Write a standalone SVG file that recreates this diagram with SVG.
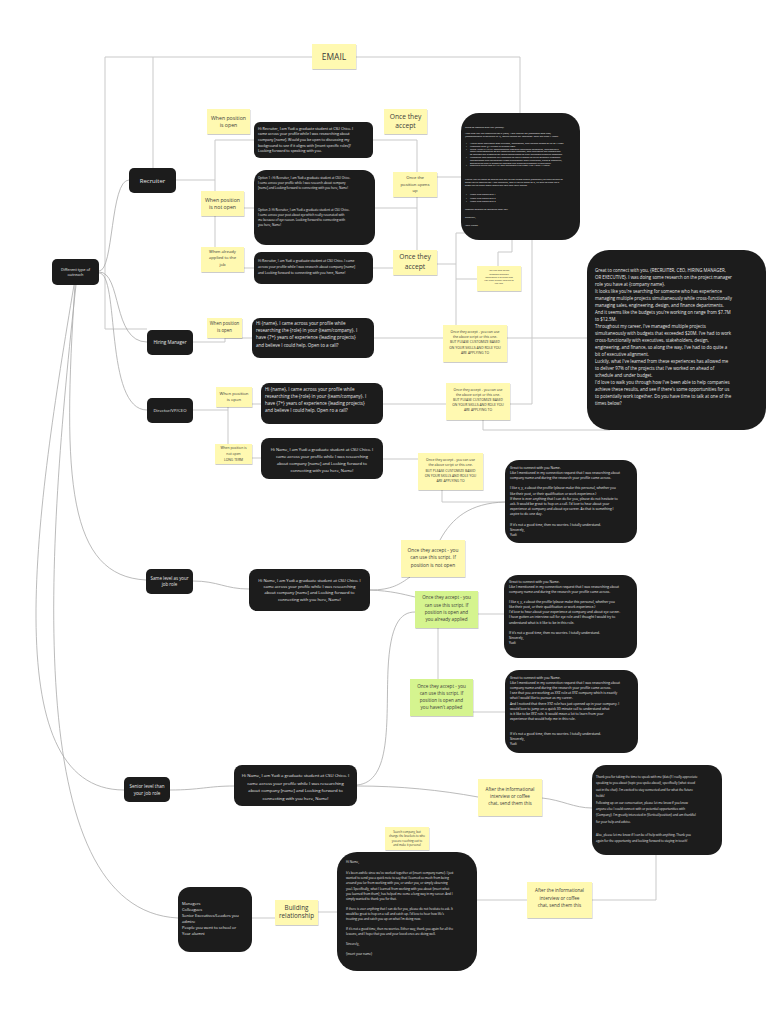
<svg xmlns="http://www.w3.org/2000/svg" width="768" height="1024" viewBox="0 0 768 1024">
<defs>
<filter id="sh" x="-10%" y="-10%" width="130%" height="140%"><feDropShadow dx="0.5" dy="1" stdDeviation="0.7" flood-color="#000" flood-opacity="0.2"/></filter>
<style>
.b{fill:#1c1c1c}
.y{fill:#fff9b1;filter:url(#sh)}
.g{fill:#d5f48f;filter:url(#sh)}
.c{fill:none;stroke:#c9c9c9;stroke-width:1}
.cv{fill:none;stroke:#a9a9a9;stroke-width:0.8}
text{font-family:"Open Sans","Liberation Sans",sans-serif}
.w{fill:#e6e6e6}
.wc{fill:#e6e6e6;text-anchor:middle}
.k{fill:#3a3a3a;text-anchor:middle}
</style>
</defs>
<rect width="768" height="1024" fill="#ffffff"/>

<g id="connectors">
<path class="c" d="M153,168 V57 H520 V113"/>
<path class="c" d="M147,329 H105 V57 H153"/>
<path class="cv" d="M99,271 C114,271 110,180 129,180"/>
<path class="cv" d="M99,272 C122,272 112,342 147,342"/>
<path class="cv" d="M99,273 C120,273 104,410 147,410"/>
<path class="cv" d="M75,285 C62,480 68,576 146,580"/>
<path class="cv" d="M74,285 C38,500 -8,790 124,790"/>
<path class="cv" d="M76,285 C48,540 18,910 178,918"/>
<path class="c" d="M176,180 H215"/>
<path class="c" d="M215,140 V268"/>
<path class="c" d="M215,140 H254"/>
<path class="c" d="M244,208 H254"/>
<path class="c" d="M215,268 H254"/>
<path class="c" d="M373,140 H417 V250"/>
<path class="c" d="M375,208 H417"/>
<path class="c" d="M437,177 H461"/>
<path class="c" d="M373,268 H393"/>
<path class="c" d="M437,264 H456"/>
<path class="c" d="M466,233 H456 V325"/>
<path class="c" d="M456,279 H477"/>
<path class="c" d="M512,240 V252 H498 V266"/>
<path class="c" d="M532,240 V404 H510"/>
<path class="c" d="M193,342 H225 V338 H252"/>
<path class="c" d="M374,338 H443"/>
<path class="c" d="M507,338 H587"/>
<path class="c" d="M193,410 H228"/>
<path class="c" d="M228,407 V444"/>
<path class="c" d="M252,404 H261"/>
<path class="c" d="M252,458 H261"/>
<path class="c" d="M383,404 H446"/>
<path class="c" d="M383,459 H418"/>
<path class="c" d="M483,420 V430 H610"/>
<path class="c" d="M442,490 V502 H505"/>
<path class="cv" d="M440,540 C452,518 470,503 505,502"/>
<path class="cv" d="M193,581 C218,581 225,589 249,589"/>
<path class="cv" d="M370,590 C392,590 400,584 410,577"/>
<path class="cv" d="M370,590 C392,591 402,594 415,597"/>
<path class="cv" d="M357,785 C392,782 386,720 388,670 C390,625 400,612 415,612"/>
<path class="c" d="M478,614 H504"/>
<path class="c" d="M438,628 V679"/>
<path class="c" d="M473,712 H505"/>
<path class="cv" d="M170,790 C200,790 208,786 234,786"/>
<path class="cv" d="M357,786 C400,786 440,790 478,797"/>
<path class="cv" d="M542,798 C562,800 574,808 592,808"/>
<path class="c" d="M656,855 V900 H592"/>
<path class="c" d="M252,918 H275"/>
<path class="c" d="M318,912 H337"/>
<path class="c" d="M477,900 H527"/>
</g>

<g id="n-outreach"><rect class="b" x="52" y="259" width="47" height="26" rx="5"/>
<text class="wc" font-size="3.8"><tspan x="75.5" y="270.5">Different type of</tspan><tspan x="75.5" y="276">outreach</tspan></text></g>

<g id="n-recruiter"><rect class="b" x="129" y="168" width="47" height="25" rx="5"/>
<text class="wc" font-size="6" x="152.5" y="182.5">Recruiter</text></g>

<g id="n-email"><rect class="y" x="312" y="44" width="44" height="25"/>
<text class="k" font-size="8.5" x="334" y="59.5">EMAIL</text></g>

<g id="s-rec-open"><rect class="y" x="207" y="109" width="43" height="25"/>
<text class="k" font-size="5.2"><tspan x="228.5" y="120">When position</tspan><tspan x="228.5" y="126.5">is open</tspan></text></g>

<g id="m-rec1"><rect class="b" x="254" y="122" width="119" height="36" rx="6"/>
<text class="w" font-size="3.6"><tspan x="258" y="129.5">Hi Recruiter, I am Yudi a graduate student at CSU Chico. I</tspan><tspan x="258" y="135.2">came across your profile while I was researching about</tspan><tspan x="258" y="140.9">company [name]. Would you be open to discussing my</tspan><tspan x="258" y="146.6">background to see if it aligns with [insert specific roles]?</tspan><tspan x="258" y="152.3">Looking forward to speaking with you.</tspan></text></g>

<g id="s-accept1"><rect class="y" x="384" y="109" width="43" height="25"/>
<text class="k" font-size="6.7"><tspan x="405.5" y="118.8">Once they</tspan><tspan x="405.5" y="128.4">accept</tspan></text></g>

<g id="s-rec-notopen"><rect class="y" x="201" y="191" width="43" height="25"/>
<text class="k" font-size="5.2"><tspan x="222.5" y="202">When position</tspan><tspan x="222.5" y="208.6">is not open</tspan></text></g>

<g id="m-rec2"><rect class="b" x="254" y="170" width="121" height="75" rx="12"/>
<text class="w" font-size="3.0"><tspan x="258" y="178.5">Option 1 : Hi Recruiter, I am Yudi a graduate student at CSU Chico.</tspan><tspan x="258" y="183.8">I came across your profile while I was research about company</tspan><tspan x="258" y="189.1">[name] and Looking forward to connecting with you here, Name!</tspan><tspan x="258" y="210.5">Option 2: Hi Recruiter, I am Yudi a graduate student at CSU Chico.</tspan><tspan x="258" y="215.8">I came across your post about  xyz which really resonated with</tspan><tspan x="258" y="221.1">me because of xyz reason. Looking forward to connecting with</tspan><tspan x="258" y="226.4">you here, Name!</tspan></text></g>

<g id="s-opens"><rect class="y" x="393" y="172" width="44" height="25"/>
<text class="k" font-size="4.2"><tspan x="415" y="178.8">Once the</tspan><tspan x="415" y="185.5">position opens</tspan><tspan x="415" y="192.2">up</tspan></text></g>

<g id="s-applied"><rect class="y" x="201" y="247" width="43" height="25"/>
<text class="k" font-size="4.2"><tspan x="222.5" y="252.7">When already</tspan><tspan x="222.5" y="259.4">applied to the</tspan><tspan x="222.5" y="266.1">job</tspan></text></g>

<g id="m-rec3"><rect class="b" x="254" y="252" width="119" height="32" rx="7"/>
<text class="w" font-size="3.3"><tspan x="258" y="262.4">Hi Recruiter, I am Yudi a graduate student at CSU Chico. I came</tspan><tspan x="258" y="268">across your profile while I was research about company [name]</tspan><tspan x="258" y="273.6">and Looking forward to connecting with you here, Name!</tspan></text></g>

<g id="s-accept2"><rect class="y" x="393" y="250" width="44" height="25"/>
<text class="k" font-size="6.7"><tspan x="415" y="259.3">Once they</tspan><tspan x="415" y="269">accept</tspan></text></g>

<g id="m-email-big"><rect class="b" x="461" y="113" width="119" height="127" rx="18"/>
<text class="w" font-size="2.45"><tspan x="465" y="127.5">Great to connect with you {name}!</tspan><tspan x="465" y="134">I see that you are searching for a {role}. Your search for {someone who has}</tspan><tspan x="465" y="137.3">{demonstrated experience in X}, which caught my attention. Over the past X years:</tspan><tspan x="466" y="144">•</tspan><tspan x="470" y="144">I have been entrusted with building, developing, and leading teams of up to X FTEs</tspan><tspan x="466" y="146.8">•</tspan><tspan x="470" y="146.8">Managed over $X Million in diverse R&amp;D</tspan><tspan x="466" y="149.6">•</tspan><tspan x="470" y="149.6">Grew Ability T X% by implementing effective operating strategies, developing a</tspan><tspan x="470" y="152.4">deep understanding of our features and benefits, and leveraging the knowledge</tspan><tspan x="470" y="155.2">to activate the platform for sales/conversions at high increased product adoption.</tspan><tspan x="466" y="158">•</tspan><tspan x="470" y="158">Mentored and coached key partners to lead a model to drive strategic customer</tspan><tspan x="470" y="160.8">engagement and collaborate cross-functionally with Marketing, Sales &amp; Research,</tspan><tspan x="470" y="163.6">Engineering and IT teams to improve the product/customer experience.</tspan><tspan x="466" y="166.4">•</tspan><tspan x="470" y="166.4">Reduced churn rate by X% and increased NPS from X to Y over X years.</tspan><tspan x="465" y="180">Would you be open to finding out any of the below about {company} to align myself to</tspan><tspan x="465" y="183">what you're looking for. I am available, and if you're open to it, I'd love to jump on a</tspan><tspan x="465" y="186">short call to learn more about the role and your needs:</tspan><tspan x="466" y="195">•</tspan><tspan x="470" y="195">Make This Stand Out 1</tspan><tspan x="466" y="198.5">•</tspan><tspan x="470" y="198.5">Make This Stand Out 2</tspan><tspan x="466" y="202">•</tspan><tspan x="470" y="202">Make This Stand Out 3</tspan><tspan x="465" y="210">Looking forward to speaking with you.</tspan><tspan x="465" y="218">Sincerely,</tspan><tspan x="465" y="225.5">Your Name</tspan></text></g>

<g id="s-also"><rect class="y" x="477" y="266" width="44" height="25"/>
<text class="k" font-size="2.3"><tspan x="499" y="271.2">You can also delete</tspan><tspan x="499" y="274.5">message/mention</tspan><tspan x="499" y="277.8">mentioned it to them that</tspan><tspan x="499" y="281.1">you have already applied to</tspan><tspan x="499" y="284.4">the role</tspan></text></g>

<g id="m-right-big"><rect class="b" x="587" y="250" width="179" height="180" rx="22"/>
<text class="w" font-size="4.4"><tspan x="595" y="271.5">Great to connect with you, {RECRUITER, CEO, HIRING MANAGER,</tspan><tspan x="595" y="278.5">OR EXECUTIVE}. I was doing some research on the project manager</tspan><tspan x="595" y="285.6">role you have at {company name}.</tspan><tspan x="595" y="292.6">It looks like you're searching for someone who has experience</tspan><tspan x="595" y="299.7">managing multiple projects simultaneously while cross-functionally</tspan><tspan x="595" y="306.7">managing sales, engineering, design, and finance departments.</tspan><tspan x="595" y="313.8">And it seems like the budgets you're working on range from $7.7M</tspan><tspan x="595" y="320.8">to $12.5M.</tspan><tspan x="595" y="327.9">Throughout my career, I've managed multiple projects</tspan><tspan x="595" y="334.9">simultaneously with budgets that exceeded $20M. I've had to work</tspan><tspan x="595" y="342">cross-functionally with executives, stakeholders, design,</tspan><tspan x="595" y="349">engineering, and finance, so along the way, I've had to do quite a</tspan><tspan x="595" y="356.1">bit of executive alignment.</tspan><tspan x="595" y="363.1">Luckily, what I've learned from these experiences has allowed me</tspan><tspan x="595" y="370.2">to deliver 97% of the projects that I've worked on ahead of</tspan><tspan x="595" y="377.2">schedule and under budget.</tspan><tspan x="595" y="384.3">I'd love to walk you through how I've been able to help companies</tspan><tspan x="595" y="391.3">achieve these results, and see if there's some opportunities for us</tspan><tspan x="595" y="398.4">to potentially work together. Do you have time to talk at one of the</tspan><tspan x="595" y="405.4">times below?</tspan></text></g>

<g id="n-hm"><rect class="b" x="147" y="330" width="46" height="25" rx="5"/>
<text class="wc" font-size="4.6" x="170" y="344.2">Hiring Manager</text></g>

<g id="s-hm-open"><rect class="y" x="207" y="318" width="35" height="20"/>
<text class="k" font-size="4.4"><tspan x="224.5" y="325">When position</tspan><tspan x="224.5" y="331.6">is open</tspan></text></g>

<g id="m-hm"><rect class="b" x="252" y="318" width="122" height="40" rx="8"/>
<text class="w" font-size="4.5"><tspan x="256" y="324.6">Hi {name}, I came across your profile while</tspan><tspan x="256" y="331.9">researching the {role} in your {team/company}. I</tspan><tspan x="256" y="339.2">have {7+} years of experience {leading projects}</tspan><tspan x="256" y="346.5">and believe I could help. Open to a call?</tspan></text></g>

<g id="s-hm-accept"><rect class="y" x="443" y="325" width="64" height="37"/>
<text class="k" font-size="3.4"><tspan x="475" y="333">Once they accept - you can use</tspan><tspan x="475" y="338.2">the above script or this one.</tspan><tspan x="475" y="343.4">BUT PLEASE CUSTOMIZE BASED</tspan><tspan x="475" y="348.6">ON YOUR SKILLS AND ROLE YOU</tspan><tspan x="475" y="353.8">ARE APPLYING TO</tspan></text></g>

<g id="n-dir"><rect class="b" x="147" y="398" width="46" height="25" rx="5"/>
<text class="wc" font-size="4.3" x="170" y="412">Director/VP/CEO</text></g>

<g id="s-dir-open"><rect class="y" x="216" y="387" width="36" height="20"/>
<text class="k" font-size="4.3"><tspan x="234" y="395">When position</tspan><tspan x="234" y="401.3">is open</tspan></text></g>

<g id="m-dir"><rect class="b" x="261" y="383" width="122" height="41" rx="8"/>
<text class="w" font-size="4.5"><tspan x="265" y="391">Hi {name}, I came across your profile while</tspan><tspan x="265" y="398.1">researching the {role} in your {team/company}. I</tspan><tspan x="265" y="405.2">have {7+} years of experience {leading projects}</tspan><tspan x="265" y="412.3">and believe I could help. Open ro a call?</tspan></text></g>

<g id="s-dir-accept"><rect class="y" x="446" y="383" width="64" height="37"/>
<text class="k" font-size="3.4"><tspan x="478" y="390.5">Once they accept - you can use</tspan><tspan x="478" y="395.7">the above script or this one.</tspan><tspan x="478" y="400.9">BUT PLEASE CUSTOMIZE BASED</tspan><tspan x="478" y="406.1">ON YOUR SKILLS AND ROLE YOU</tspan><tspan x="478" y="411.3">ARE APPLYING TO</tspan></text></g>

<g id="s-dir-longterm"><rect class="y" x="215" y="444" width="37" height="20"/>
<text class="k" font-size="3.4"><tspan x="233.5" y="449.3">When position is</tspan><tspan x="233.5" y="455">not open</tspan><tspan x="233.5" y="460.7">LONG TERM</tspan></text></g>

<g id="m-dir2"><rect class="b" x="261" y="438" width="122" height="41" rx="8"/>
<text class="wc" font-size="4.1"><tspan x="322" y="451">Hi Name, I am Yudi a graduate student at CSU Chico. I</tspan><tspan x="322" y="458">came across your profile while I was researching</tspan><tspan x="322" y="465">about company [name] and Looking forward to</tspan><tspan x="322" y="472">connecting with you here, Name!</tspan></text></g>

<g id="s-dir-accept2"><rect class="y" x="418" y="453" width="65" height="37"/>
<text class="k" font-size="3.4"><tspan x="450.5" y="461.2">Once they accept - you can use</tspan><tspan x="450.5" y="466.4">the above script or this one.</tspan><tspan x="450.5" y="471.6">BUT PLEASE CUSTOMIZE BASED</tspan><tspan x="450.5" y="476.8">ON YOUR SKILLS AND ROLE YOU</tspan><tspan x="450.5" y="482">ARE APPLYING TO</tspan></text></g>

<g id="m-same-notopen"><rect class="b" x="505" y="460" width="132" height="83" rx="14"/>
<text class="w" font-size="3.3"><tspan x="510" y="468.5">Great to connect with you Name.</tspan><tspan x="510" y="473.7">Like I mentioned in my connection request that I was researching about</tspan><tspan x="510" y="478.9">company name and during the research your profile came across.</tspan><tspan x="510" y="489.3">I like x, y, z about the profile (please make this personal, whether you</tspan><tspan x="510" y="494.5">like their post, or their qualification or work experience.)</tspan><tspan x="510" y="499.7">If there is ever anything that I can do for you, please do not hesitate to</tspan><tspan x="510" y="504.9">ask. It would be great to hop on a call. I'd love to hear about your</tspan><tspan x="510" y="510.1">experience at company and about xyz career. As that is something I</tspan><tspan x="510" y="515.3">aspire to do one day.</tspan><tspan x="510" y="525.7">If it's not a good time, then no worries. I totally understand.</tspan><tspan x="510" y="530.9">Sincerely,</tspan><tspan x="510" y="536.1">Yudi</tspan></text></g>

<g id="s-notopen2"><rect class="y" x="401" y="540" width="64" height="37"/>
<text class="k" font-size="4.8"><tspan x="433" y="551.6">Once they accept - you</tspan><tspan x="433" y="559.1">can use  this script. If</tspan><tspan x="433" y="566.6">position is not open</tspan></text></g>

<g id="n-same"><rect class="b" x="146" y="569" width="47" height="25" rx="5"/>
<text class="wc" font-size="4.4"><tspan x="169.5" y="580.2">Same level as your</tspan><tspan x="169.5" y="586.4">job role</tspan></text></g>

<g id="m-same"><rect class="b" x="249" y="569" width="121" height="42" rx="8"/>
<text class="wc" font-size="4.1"><tspan x="309.5" y="581.5">Hi Name, I am Yudi a graduate student at CSU Chico. I</tspan><tspan x="309.5" y="588">came across your profile while I was researching</tspan><tspan x="309.5" y="594.4">about company [name] and Looking forward to</tspan><tspan x="309.5" y="600.8">connecting with you here, Name!</tspan></text></g>

<g id="s-green1"><rect class="g" x="415" y="591" width="63" height="37"/>
<text class="k" font-size="4.6"><tspan x="446.5" y="599">Once they accept - you</tspan><tspan x="446.5" y="606.5">can use  this script. If</tspan><tspan x="446.5" y="614">position is  open and</tspan><tspan x="446.5" y="621.3">you already applied</tspan></text></g>

<g id="m-same-applied"><rect class="b" x="504" y="575" width="133" height="83" rx="14"/>
<text class="w" font-size="3.3"><tspan x="509" y="582.5">Great to connect with you Name.</tspan><tspan x="509" y="587.6">Like I mentioned in my connection request that I was researching about</tspan><tspan x="509" y="592.7">company name and during the research your profile came across.</tspan><tspan x="509" y="603">I like x, y, z about the profile (please make this personal, whether you</tspan><tspan x="509" y="608.1">like their post, or their qualification or work experience.)</tspan><tspan x="509" y="613.3">I'd love to hear about your experience at company and about xyz career.</tspan><tspan x="509" y="618.4">I have gotten an interview call for xyz role and I thought I would try to</tspan><tspan x="509" y="623.5">understand what is it like to be in this role.</tspan><tspan x="509" y="634">If it's not a good time, then no worries. I totally understand.</tspan><tspan x="509" y="639.1">Sincerely,</tspan><tspan x="509" y="644.2">Yudi</tspan></text></g>

<g id="s-green2"><rect class="g" x="410" y="679" width="63" height="37"/>
<text class="k" font-size="4.6"><tspan x="441.5" y="687.6">Once they accept - you</tspan><tspan x="441.5" y="694.6">can use  this script. If</tspan><tspan x="441.5" y="701.8">position is  open and</tspan><tspan x="441.5" y="709">you haven't applied</tspan></text></g>

<g id="m-same-notapplied"><rect class="b" x="505" y="670" width="133" height="83" rx="14"/>
<text class="w" font-size="3.3"><tspan x="510" y="679.3">Great to connect with you Name.</tspan><tspan x="510" y="684.3">Like I mentioned in my connection request that I was researching about</tspan><tspan x="510" y="689.3">company name and during the research your profile came across.</tspan><tspan x="510" y="694.3">I see that you are working as XYZ role at XYZ company which is exactly</tspan><tspan x="510" y="699.3">what I would like to pursue as my career.</tspan><tspan x="510" y="704.8">And I noticed that there XYZ role has just opened up in your company. I</tspan><tspan x="510" y="709.8">would love to jump on a quick 30 minute call to understand what</tspan><tspan x="510" y="714.8">is it like to be XYZ role. It would mean a lot to learn from your</tspan><tspan x="510" y="719.8">experience that would help me in this role.</tspan><tspan x="510" y="734.8">If it's not a good time, then no worries. I totally understand.</tspan><tspan x="510" y="739.8">Sincerely,</tspan><tspan x="510" y="744.8">Yudi</tspan></text></g>

<g id="n-senior"><rect class="b" x="124" y="777" width="46" height="25" rx="5"/>
<text class="wc" font-size="4.5"><tspan x="147" y="788">Senior level than</tspan><tspan x="147" y="794.5">your job role</tspan></text></g>

<g id="m-senior"><rect class="b" x="234" y="765" width="123" height="41" rx="8"/>
<text class="wc" font-size="4.3"><tspan x="295.5" y="777">Hi Name, I am Yudi a graduate student at CSU Chico. I</tspan><tspan x="295.5" y="784.5">came across your profile while I was researching</tspan><tspan x="295.5" y="792">about company [name] and Looking forward to</tspan><tspan x="295.5" y="799.5">connecting with you here, Name!</tspan></text></g>

<g id="s-after1"><rect class="y" x="478" y="779" width="64" height="37"/>
<text class="k" font-size="4.6"><tspan x="510" y="790.6">After the informational</tspan><tspan x="510" y="797.9">interview or coffee</tspan><tspan x="510" y="805.2">chat, send them this</tspan></text></g>

<g id="m-thank"><rect class="b" x="592" y="765" width="130" height="90" rx="14"/>
<text class="w" font-size="3.0"><tspan x="596" y="778">Thank you for taking the time to speak with me {date}! I really appreciate</tspan><tspan x="596" y="784.4">speaking to you about {topic you spoke about}, specifically {what stood</tspan><tspan x="596" y="790.8">out in the chat}. I'm excited to stay connected and for what the future</tspan><tspan x="596" y="797.2">holds!</tspan><tspan x="596" y="803.6">Following up on our conversation, please let me know if you know</tspan><tspan x="596" y="810">anyone else I could connect with or potential opportunities with</tspan><tspan x="596" y="816.4">{Company}. I'm greatly interested in {Vertical/position} and am thankful</tspan><tspan x="596" y="822.8">for your help and advice.</tspan><tspan x="596" y="835.6">Also, please let me know if I can be of help with anything. Thank you</tspan><tspan x="596" y="842">again for the opportunity and looking forward to staying in touch!</tspan></text></g>

<g id="s-search"><rect class="y" x="385" y="827" width="44" height="23"/>
<text class="k" font-size="2.8"><tspan x="407" y="832.5">Search company, but</tspan><tspan x="407" y="837">change the brackets to who</tspan><tspan x="407" y="841.5">you are reaching out to</tspan><tspan x="407" y="846">and make it personal</tspan></text></g>

<g id="n-managers"><rect class="b" x="178" y="887" width="74" height="65" rx="12"/>
<text class="w" font-size="4.0"><tspan x="182" y="904.7">Managers</tspan><tspan x="182" y="910.7">Colleagues</tspan><tspan x="182" y="916.7">Senior Executives/Leaders you</tspan><tspan x="182" y="922.7">admire</tspan><tspan x="182" y="928.7">People you went to school or</tspan><tspan x="182" y="934.7">Your alumni</tspan></text></g>

<g id="s-build"><rect class="y" x="275" y="900" width="43" height="25"/>
<text class="k" font-size="6.3"><tspan x="296.5" y="910">Building</tspan><tspan x="296.5" y="918.4">relationship</tspan></text></g>

<g id="m-hiname"><rect class="b" x="337" y="852" width="140" height="119" rx="20"/>
<text class="w" font-size="3.0"><tspan x="346" y="863">Hi Name,</tspan><tspan x="346" y="874">It's been awhile since we've worked together at {insert company name}. I just</tspan><tspan x="346" y="879.2">wanted to send you a quick note to say that I learned so much from being</tspan><tspan x="346" y="884.4">around you (or from working with you, or under you, or simply observing</tspan><tspan x="346" y="889.6">you). Specifically, what I learned from working with you about {insert what</tspan><tspan x="346" y="894.8">you learned from them}, has helped me come a long way in my career. And I</tspan><tspan x="346" y="900">simply wanted to thank you for that.</tspan><tspan x="346" y="909.5">If there is ever anything that I can do for you, please do not hesitate to ask. It</tspan><tspan x="346" y="914.7">would be great to hop on a call and catch up. I'd love to hear how life's</tspan><tspan x="346" y="919.9">treating you and catch you up on what I'm doing now.</tspan><tspan x="346" y="930">If it's not a good time, then no worries. Either way, thank you again for all the</tspan><tspan x="346" y="935.2">lessons, and I hope that you and your loved ones are doing well.</tspan><tspan x="346" y="945">Sincerely,</tspan><tspan x="346" y="954.5">{insert your name}</tspan></text></g>

<g id="s-after2"><rect class="y" x="527" y="882" width="65" height="36"/>
<text class="k" font-size="4.6"><tspan x="559.5" y="892.3">After the informational</tspan><tspan x="559.5" y="899.5">interview or coffee</tspan><tspan x="559.5" y="906.7">chat, send them this</tspan></text></g>
</svg>
